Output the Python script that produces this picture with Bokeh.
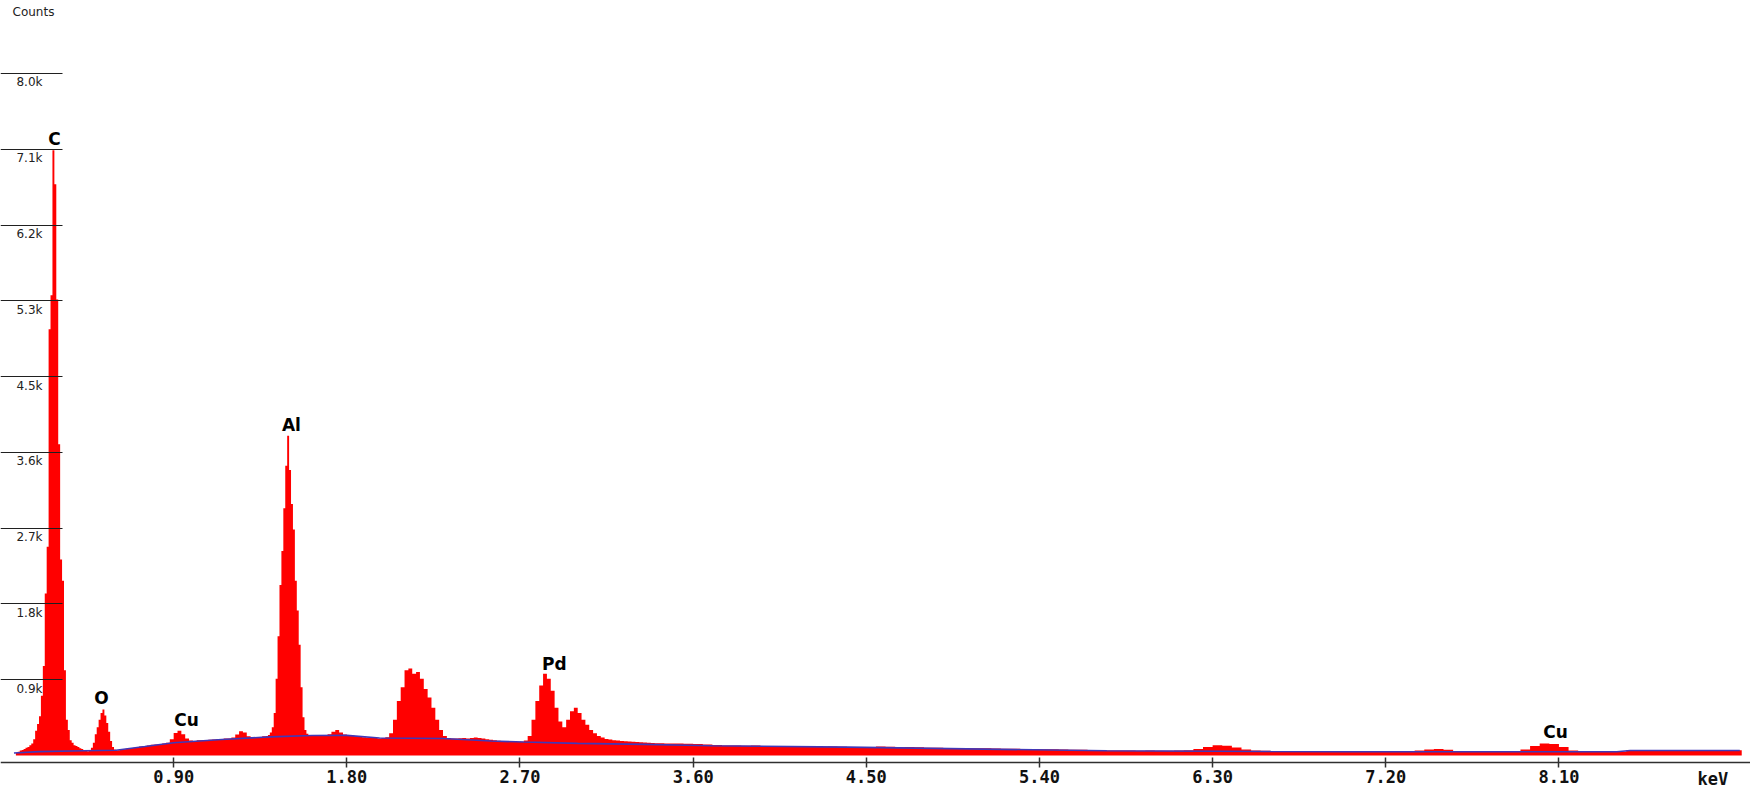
import numpy as np
from bokeh.plotting import figure
from bokeh.models import Range1d, LinearAxis, FixedTicker, Label
from bokeh.core.properties import value
from bokeh.embed import file_html
from bokeh.resources import INLINE

# ---- spectrum data (counts per channel) ----
# region 1: 0.08-0.69 keV, 0.01 keV channels (C, O)
r1_start, r1_step = 0.08, 0.01
r1_counts = [30, 45, 60, 65, 75, 90, 100, 120, 140, 190,
             290, 370, 460, 700, 1050, 1900, 2450, 5000, 5400, 7100,
             6700, 5350, 3650, 2300, 2050, 1000, 420, 300, 180, 150,
             120, 110, 100, 85, 75, 60, 55, 50, 60, 90,
             150, 250, 330, 420, 500, 540, 470, 380, 280, 170,
             100, 70, 60, 62, 65, 70, 72, 78, 80, 85,
             88, 92]
# region 2: 0.70-1.36 keV, 0.02 keV channels (Cu L)
r2_start, r2_step = 0.70, 0.02
r2_counts = [100, 105, 112, 118, 125, 130, 135, 140, 150, 190,
             265, 290, 250, 200, 175, 170, 178, 180, 176, 185,
             188, 192, 190, 198, 200, 210, 245, 285, 270, 225,
             215, 212, 218, 225]
# region 3: 1.38-1.59 keV, 0.01 keV channels (Al)
r3_start, r3_step = 1.38, 0.01
r3_counts = [230, 240, 270, 330, 500, 900, 1400, 2000, 2400, 2900,
             3400, 3750, 3350, 2950, 2650, 2050, 1700, 1300, 800, 450,
             300, 255]
# region 4: 1.60-3.38 keV, 0.02 keV channels (2.1 keV peak, Pd)
r4_start, r4_step = 1.60, 0.02
r4_counts = [235, 238, 232, 240, 236, 250, 280, 300, 270, 245,
             238, 232, 225, 220, 215, 210, 205, 205, 200, 205,
             215, 260, 420, 640, 800, 1000, 1020, 960, 980, 900,
             780, 680, 560, 420, 300, 230, 205, 200, 198, 202,
             205, 200, 206, 210, 204, 198, 190, 185, 178, 172,
             168, 165, 162, 160, 158, 160, 175, 230, 420, 640,
             820, 960, 900, 760, 560, 400, 330, 420, 520, 560,
             500, 420, 360, 300, 260, 230, 210, 195, 188, 180,
             175, 170, 168, 165, 160, 158, 155, 152, 150, 148]
# region 5: 3.40-9.00 keV, 0.05 keV channels (background, Fe, Ni, Cu K)
r5_start, r5_step = 3.40, 0.05
r5_counts = [145, 142, 140, 138, 135, 128, 122, 118, 118, 115,
             116, 112, 112, 110, 108, 110, 106, 104, 105, 102,
             100, 98, 100, 105, 102, 98, 100, 96, 92, 90,
             88, 86, 85, 84, 84, 82, 80, 78, 76, 75,
             74, 72, 70, 68, 66, 62, 60, 58, 60, 58,
             57, 58, 56, 57, 58, 62, 75, 100, 120, 115,
             95, 70, 58, 56, 50, 48, 48, 47, 47, 46,
             46, 45, 46, 45, 45, 45, 44, 45, 46, 58,
             70, 75, 68, 52, 45, 44, 44, 45, 44, 46,
             70, 110, 140, 135, 100, 60, 46, 45, 45, 45,
             46, 62, 62, 63, 62, 62, 63, 62, 62, 61,
             62, 62, 62]

# fitted background (blue line)
bg_kev = [0.07, 0.20, 0.43, 0.60, 0.75, 0.90, 1.15, 1.40, 1.62, 1.80,
          1.97, 2.30, 2.55, 2.72, 3.00, 3.35, 3.70, 4.40, 5.20, 5.75,
          6.60, 7.00, 8.40, 8.47, 9.04]
bg_counts = [30, 45, 55, 62, 105, 150, 188, 218, 235, 236,
             205, 200, 170, 158, 142, 130, 115, 98, 72, 56,
             47, 44, 44, 58, 58]

# peak labels
peak_names = ["C", "O", "Cu", "Al", "Pd", "Cu"]
peak_kev = [0.281, 0.525, 0.967, 1.512, 2.879, 8.082]
peak_counts = [7226, 669, 422, 3871, 1079, 270]

# axes
xtick_vals = [0.9, 1.8, 2.7, 3.6, 4.5, 5.4, 6.3, 7.2, 8.1]
xtick_labels = ["0.90", "1.80", "2.70", "3.60", "4.50", "5.40", "6.30", "7.20", "8.10"]
ytick_vals = [8000, 7111, 6222, 5333, 4444, 3556, 2667, 1778, 889]
ytick_labels = ["8.0k", "7.1k", "6.2k", "5.3k", "4.5k", "3.6k", "2.7k", "1.8k", "0.9k"]
x_unit = "keV"
y_unit = "Counts"

# ---- build channel arrays ----
energies, counts = [], []
for start, step, cs in [(r1_start, r1_step, r1_counts), (r2_start, r2_step, r2_counts),
                        (r3_start, r3_step, r3_counts), (r4_start, r4_step, r4_counts),
                        (r5_start, r5_step, r5_counts)]:
    energies.extend(start + step * np.arange(len(cs)))
    counts.extend(cs)
energies.append(r5_start + r5_step * len(r5_counts))
counts.append(r5_counts[-1])
energies = np.array(energies)
counts = np.array(counts, dtype=float)

p = figure(frame_width=1750, frame_height=792,
           x_range=Range1d(0.0, 9.0956), y_range=Range1d(-434.0, 8856.3),
           x_axis_type=None, y_axis_type=None,
           output_backend="svg", toolbar_location=None,
           min_border=0, min_border_left=0, min_border_right=0,
           min_border_top=0, min_border_bottom=0)
p.outline_line_color = None
p.background_fill_color = "white"
p.border_fill_color = "white"

p.varea_step(x=energies, y1=np.zeros_like(counts), y2=counts, step_mode="after",
             fill_color="#ff0000")
p.line(bg_kev, bg_counts, line_color="#4038b8", line_width=1.6)

# y ticks: long inward tick lines at the left edge
yaxis = LinearAxis(ticker=FixedTicker(ticks=ytick_vals),
                   major_label_overrides={v: "" for v in ytick_vals})
yaxis.fixed_location = 0.0
yaxis.axis_line_color = None
yaxis.major_tick_in = 62
yaxis.major_tick_out = 0
yaxis.major_tick_line_color = "#202020"
yaxis.major_tick_line_width = 1.2
yaxis.minor_tick_line_color = None
yaxis.major_label_standoff = 0
p.add_layout(yaxis, "left")

p.text(x=[0.2183] * len(ytick_vals), y=ytick_vals, text=ytick_labels,
       text_font=value("DejaVu Sans"), text_font_size="12px", text_color="#222222",
       text_align="right", text_baseline="middle", y_offset=9)

# x axis, drawn just below the spectrum baseline
xaxis = LinearAxis(ticker=FixedTicker(ticks=xtick_vals),
                   major_label_overrides=dict(zip(xtick_vals, xtick_labels)))
xaxis.fixed_location = -82.0
xaxis.axis_line_color = "#303030"
xaxis.axis_line_width = 1.5
xaxis.major_tick_line_color = "#303030"
xaxis.major_tick_line_width = 1.5
xaxis.major_tick_in = 5
xaxis.major_tick_out = 5
xaxis.minor_tick_line_color = None
xaxis.major_label_standoff = 3
xaxis.major_label_text_font = "DejaVu Sans Mono"
xaxis.major_label_text_font_style = "bold"
xaxis.major_label_text_font_size = "17px"
xaxis.major_label_text_color = "#111111"
p.add_layout(xaxis, "below")

# unit label on the tick-label row
p.text(x=[8.90], y=[-281.0], text=[x_unit],
       text_font=value("DejaVu Sans Mono"), text_font_style="bold", text_font_size="17px",
       text_color="#111111", text_align="center", text_baseline="middle")

# peak labels
p.text(x=peak_kev, y=peak_counts, text=peak_names,
       text_font=value("DejaVu Sans"), text_font_style="bold", text_font_size="17px",
       text_color="#000000", text_align="center", text_baseline="middle")

p.add_layout(Label(x=0.0624, y=8727, text=y_unit, text_font="DejaVu Sans",
                   text_font_size="12px", text_color="#222222",
                   text_align="left", text_baseline="middle"))

open("out.html", "w").write(file_html(p, INLINE))
